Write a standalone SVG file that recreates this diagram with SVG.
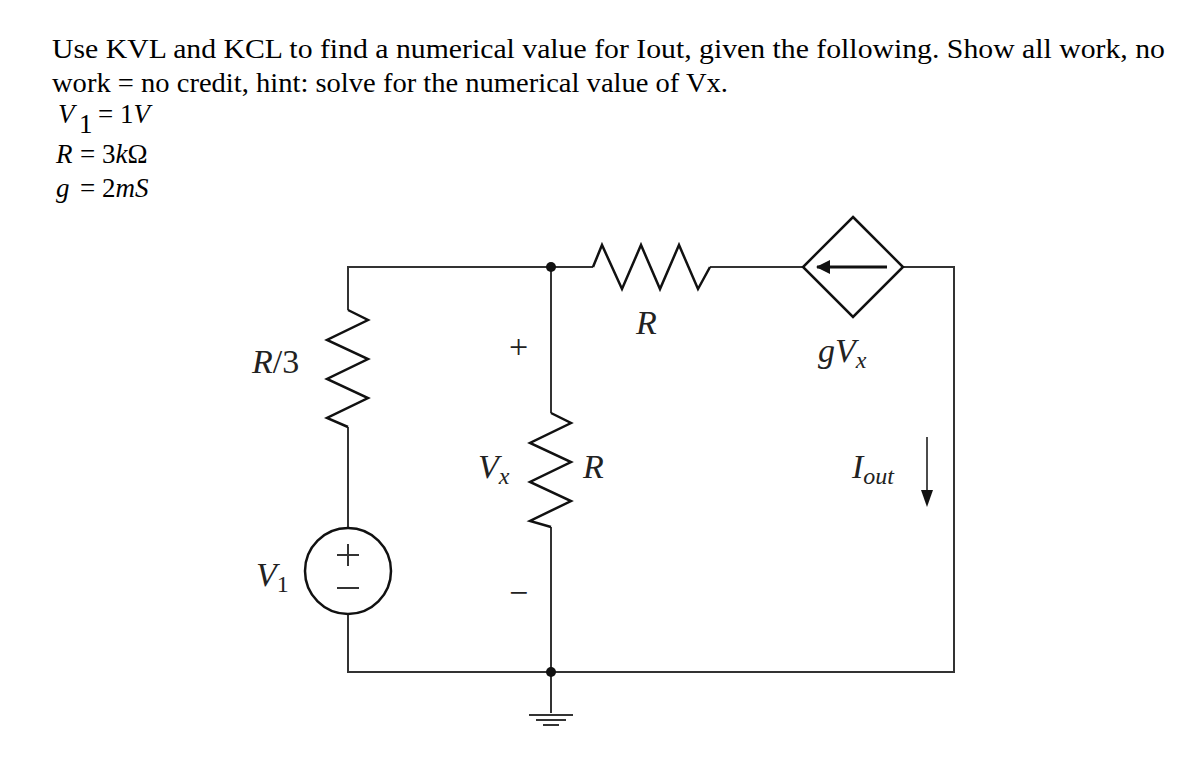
<svg xmlns="http://www.w3.org/2000/svg" width="1190" height="771" viewBox="0 0 1190 771">
<style>
.w{fill:none;stroke:#333;stroke-width:2}
.c{fill:none;stroke:#111;stroke-width:2.5;stroke-linejoin:miter}
.t{font-family:"Liberation Serif",serif;font-size:27px;fill:#000}
.m{font-family:"Liberation Serif",serif;font-style:italic;font-size:34px;fill:#222}
.n{font-family:"Liberation Serif",serif;font-style:normal;font-size:34px;fill:#222}
.s{font-size:24px}
</style>
<defs>
<marker id="ah2" markerWidth="14" markerHeight="14" refX="13" refY="7" orient="auto" markerUnits="userSpaceOnUse"><path d="M0,0 L14,7 L0,14Z" fill="#111"/></marker></defs>
<rect width="1190" height="771" fill="#fff"/>
<g id="problem">
<text class="t" x="52" y="58" textLength="1113" lengthAdjust="spacingAndGlyphs">Use KVL and KCL to find a numerical value for Iout, given the following. Show all work, no</text>
<text class="t" x="52" y="92" textLength="676" lengthAdjust="spacingAndGlyphs">work = no credit, hint: solve for the numerical value of Vx.</text>
<text class="t" x="58" y="123" font-style="italic">V</text><text class="t" x="79" y="133" font-size="15">1</text><text class="t" x="98" y="123">= 1<tspan font-style="italic">V</tspan></text>
<text class="t" x="56" y="163" font-style="italic">R</text><text class="t" x="80" y="163">=  3<tspan font-style="italic">k</tspan>Ω</text>
<text class="t" x="56" y="197" font-style="italic">g</text><text class="t" x="80" y="197">=  2<tspan font-style="italic">mS</tspan></text>
</g>
<g id="connectors">
<path class="w" d="M348,310 V267 H593 M710,267 H803 M903,267 H954 V672 H348 V614 M348,528 V427 M551,267 V413 M551,527 V713"/>
<path class="w" d="M529,715 H573 M536,720 H566 M543,725 H559"/>
<circle cx="551" cy="267" r="5" fill="#111"/>
<circle cx="551" cy="672" r="5" fill="#111"/>
</g>
<g id="R3">
<path class="c" d="M348,310 L368,320 L327,340 L368,359 L327,379 L368,398 L327,418 L348,427"/>
<text class="m" x="252" y="373">R<tspan class="n">/3</tspan></text>
</g>
<g id="V1">
<circle class="c" cx="348" cy="571" r="43"/>
<path class="w" d="M348,544 V566 M337,555 H359 M337,588 H359"/>
<text class="m" x="256" y="586">V<tspan class="n s" dy="6">1</tspan></text>
</g>
<g id="Rmid">
<path class="c" d="M551,413 L571,423 L530,443 L571,462 L530,482 L571,501 L530,521 L551,527"/>
<text class="m" x="478" y="478">V<tspan class="s" dy="6">x</tspan></text>
<text class="m" x="583" y="478">R</text>
<text class="n" x="509" y="358">+</text>
<text class="n" x="509" y="604">−</text>
</g>
<g id="Rtop">
<path class="c" d="M593,267 L602,245 L622,289 L641,245 L660,289 L679,245 L698,289 L710,267"/>
<text class="m" x="636" y="334">R</text>
</g>
<g id="source">
<path class="c" d="M853,217 L903,267 L853,317 L803,267 Z"/>
<path d="M887,267 H817" stroke="#111" stroke-width="3" marker-end="url(#ah2)"/>
<text class="m" x="818" y="362">gV<tspan class="s" dy="6">x</tspan></text>
</g>
<g id="Iout">
<text class="m" x="852" y="478">I<tspan class="s" dy="6">out</tspan></text>
<path d="M927,437 V492" stroke="#111" stroke-width="1.5"/>
<path d="M921,490 L933,490 L927,507Z" fill="#111"/>
</g>
</svg>
